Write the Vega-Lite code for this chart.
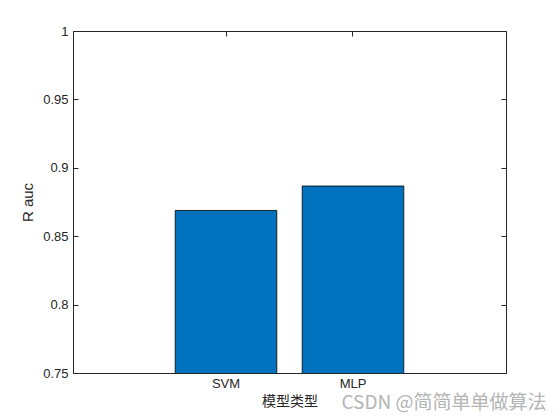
{
  "$schema": "https://vega.github.io/schema/vega-lite/v6.json",
  "width": 433,
  "height": 342,
  "autosize": {"type": "none"},
  "padding": {"left": 73, "top": 31, "right": 54, "bottom": 47},
  "background": "white",
  "title": {
    "text": "CSDN @简简单单做算法",
    "orient": "bottom",
    "anchor": "end",
    "font": "Noto Sans CJK SC",
    "fontSize": 19,
    "fontWeight": "normal",
    "color": "#b4b4b4",
    "offset": -14,
    "dx": 40
  },
  "data": {
    "values": [
      {"model": "SVM", "auc": 0.8688},
      {"model": "MLP", "auc": 0.8867}
    ]
  },
  "config": {
    "view": {"stroke": "#262626", "strokeWidth": 1},
    "axis": {
      "domainColor": "#262626",
      "tickColor": "#262626",
      "labelColor": "#262626",
      "titleColor": "#262626",
      "labelFont": "Liberation Sans",
      "labelFontSize": 13,
      "titleFontWeight": "normal",
      "grid": false,
      "tickSize": -5
    }
  },
  "layer": [
    {
      "mark": {"type": "bar", "color": "#0072BD", "stroke": "#000000", "strokeWidth": 0.8, "clip": true},
      "encoding": {
        "x": {
          "field": "model",
          "type": "nominal",
          "sort": ["SVM", "MLP"],
          "scale": {"paddingInner": 0.2, "paddingOuter": 0.805},
          "axis": {
            "orient": "bottom",
            "labelAngle": 0,
            "labelPadding": 9,
            "title": "模型类型",
            "titleFont": "Noto Sans CJK SC",
            "titleFontSize": 14,
            "titlePadding": 4
          }
        },
        "y": {
          "field": "auc",
          "type": "quantitative",
          "scale": {"domain": [0.75, 1], "zero": false, "nice": false},
          "axis": {
            "orient": "left",
            "values": [0.75, 0.8, 0.85, 0.9, 0.95, 1],
            "format": "~g",
            "labelPadding": 10,
            "title": "R auc",
            "titleFont": "Liberation Sans",
            "titleFontSize": 15,
            "titlePadding": 7
          }
        }
      }
    },
    {
      "mark": {"type": "bar", "opacity": 0, "clip": true},
      "encoding": {
        "x": {
          "field": "model",
          "type": "nominal",
          "sort": ["SVM", "MLP"],
          "axis": {"orient": "top", "labels": false, "title": null, "domain": false}
        },
        "y": {
          "field": "auc",
          "type": "quantitative",
          "axis": {
            "orient": "right",
            "labels": false,
            "title": null,
            "domain": false,
            "values": [0.75, 0.8, 0.85, 0.9, 0.95, 1]
          }
        }
      }
    }
  ],
  "resolve": {"axis": {"x": "independent", "y": "independent"}}
}
